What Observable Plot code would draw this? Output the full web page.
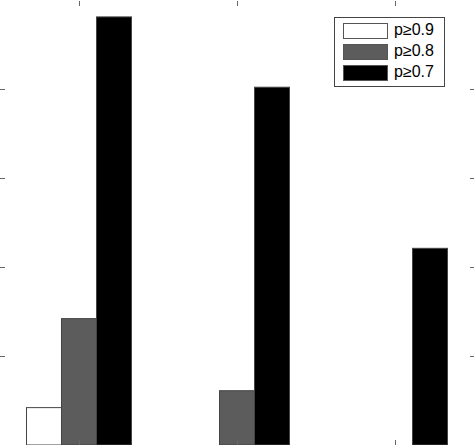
<!DOCTYPE html>
<html><head><meta charset="utf-8">
<script src="https://cdn.jsdelivr.net/npm/d3@7"></script>
<script src="https://cdn.jsdelivr.net/npm/@observablehq/plot@0.6"></script>
<style>
body{margin:0;background:#fff;}
#wrap{position:relative;width:474px;height:445px;overflow:hidden;}
.legend{position:absolute;left:334px;top:17px;width:109px;height:68px;border:1px solid #444;background:#fff;font-family:"Liberation Sans",Arial,sans-serif;font-size:16px;color:#000;}
.row{position:absolute;left:8px;height:16px;}
.sw{position:absolute;left:0;top:0;width:43px;height:14px;border:1px solid #555;}
.lab{position:absolute;left:51px;top:-2px;line-height:18px;white-space:nowrap;}
</style>
</head><body>
<div id="wrap"></div>
<script>
const groups = ["1", "2", "3"];
const series = ["p≥0.9", "p≥0.8", "p≥0.7"];
const valuesP09 = [0.42, 0, 0];
const valuesP08 = [1.42, 0.61, 0];
const valuesP07 = [4.81, 4.02, 2.21];
const colors = ["#ffffff", "#5c5c5c", "#000000"];
const yTicks = [0, 1, 2, 3, 4];

const seriesValues = [valuesP09, valuesP08, valuesP07];
const data = [];
groups.forEach((g, i) => series.forEach((s, j) => data.push({group: g, series: s, value: seriesValues[j][i]})));

const axisOpts = {tickSize: -5, tickFormat: () => "", label: null, stroke: "#666"};

const chart = Plot.plot({
  width: 474, height: 445,
  marginTop: 0, marginBottom: 0, marginLeft: 0, marginRight: 0,
  style: {background: "#fff"},
  fx: {domain: groups, padding: 0, round: false},
  x: {domain: series, paddingInner: 0, paddingOuter: 0.757, round: false},
  y: {domain: [0, 5]},
  color: {domain: series, range: colors},
  marks: [
    Plot.barY(data, {fx: "group", x: "series", y: "value", fill: "series", stroke: "#444", strokeWidth: 1}),
    Plot.axisY({...axisOpts, anchor: "left", ticks: yTicks}),
    Plot.axisY({...axisOpts, anchor: "right", ticks: yTicks}),
    Plot.axisFx({...axisOpts, anchor: "top"}),
    Plot.axisFx({...axisOpts, anchor: "bottom"}),
    Plot.axisX({ticks: [], label: null, tickFormat: () => ""})
  ]
});
const wrap = document.getElementById("wrap");
wrap.appendChild(chart);

const legend = document.createElement("div");
legend.className = "legend";
series.forEach((s, j) => {
  const row = document.createElement("div");
  row.className = "row";
  row.style.top = (5 + j * 21) + "px";
  const sw = document.createElement("div");
  sw.className = "sw";
  sw.style.background = colors[j];
  const lab = document.createElement("div");
  lab.className = "lab";
  lab.textContent = s;
  row.appendChild(sw); row.appendChild(lab);
  legend.appendChild(row);
});
wrap.appendChild(legend);
</script>
</body></html>
